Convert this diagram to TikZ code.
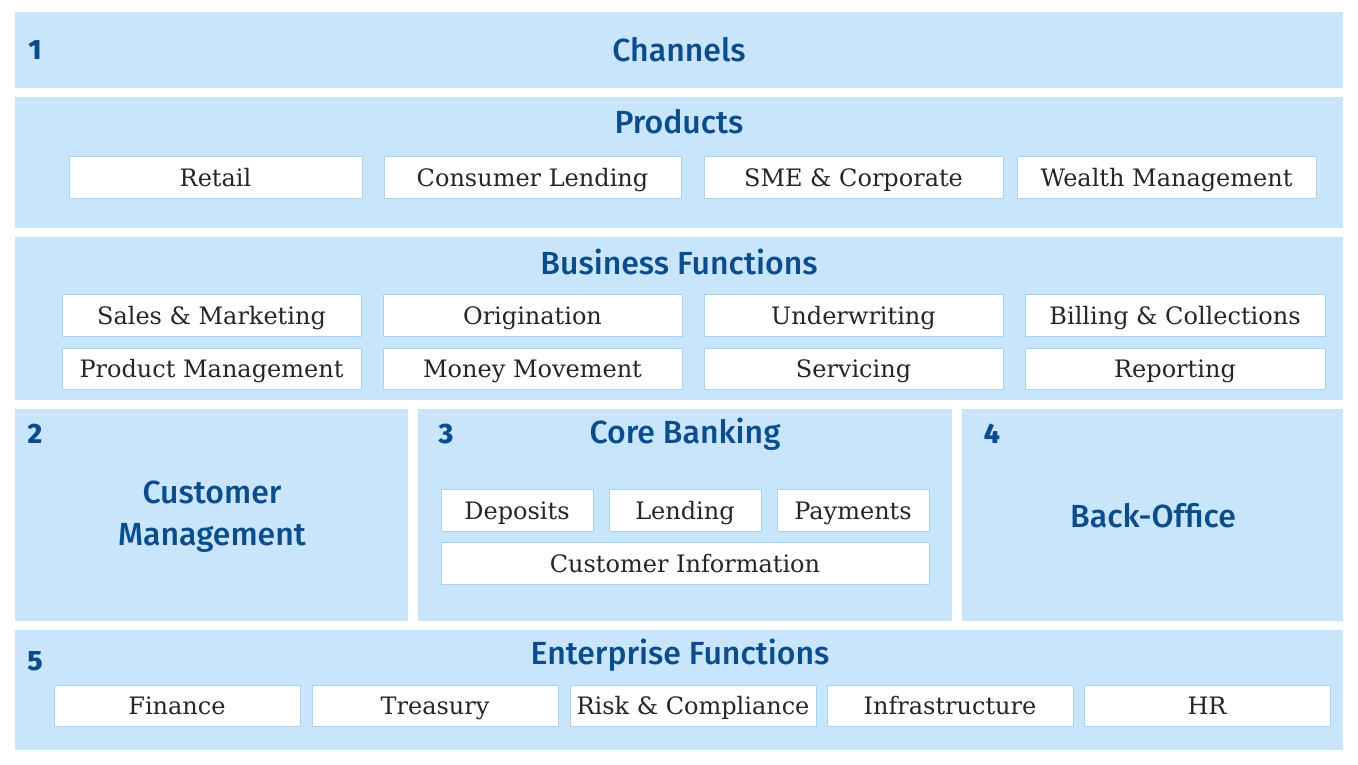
\documentclass[tikz,border=0pt]{standalone}
\usepackage{fontspec}
\setmainfont{DejaVu Serif}
\newfontfamily\ttlfont{Fira Sans Medium}
\begin{document}
\begin{tikzpicture}[x=1pt,y=-1pt,
  panel/.style={fill=pbg,draw=none},
  ttl/.style={font=\ttlfont\fontsize{32}{36}\selectfont,text=tblue},
  num/.style={font=\ttlfont\bfseries\fontsize{28}{32}\selectfont,text=tblue},
  item/.style={fill=white,draw=bline,line width=1pt}]
\definecolor{pbg}{HTML}{C8E5FB}
\definecolor{tblue}{HTML}{0B4D8C}
\definecolor{bline}{HTML}{A9D3F5}
\useasboundingbox (0,0) rectangle (1358,764);
\fill[white] (0,0) rectangle (1358,764);
\newcommand\pan[5]{\fill[panel] (#1,#2) rectangle (#3,#4); \coordinate (#5) at (#1,#2);}
\newcommand\itm[6]{\draw[item] (#1,#2) rectangle (#3,#4); \node[anchor=base,inner sep=0pt,font=\fontsize{24}{28}\selectfont,text=black!85] (#5) at ({(#1+#3)/2},{(#2+#4)/2+9}) {#6};}
% panels
\pan{15}{12}{1343}{88}{pch}
\pan{15}{97}{1343}{228}{ppr}
\pan{15}{237}{1343}{400}{pbf}
\pan{15}{409}{408}{621}{pcm}
\pan{418}{409}{952}{621}{pcb}
\pan{962}{409}{1343}{621}{pbo}
\pan{15}{630}{1343}{750}{pef}
% titles
\node[num] (n1) at (35,50) {1};
\node[ttl] (tch) at (679,50) {Channels};
\node[ttl] (tpr) at (679,122) {Products};
\node[ttl] (tbf) at (679,262) {Business Functions};
\node[num] (n2) at (35,434) {2};
\node[ttl,align=center] (tcm) at (212,517) {Customer\\[6pt]Management};
\node[num] (n3) at (446,434) {3};
\node[ttl] (tcb) at (685,434) {Core Banking};
\node[num] (n4) at (992,434) {4};
\node[ttl] (tbo) at (1153,516) {Back-Office};
\node[num] (n5) at (35,661) {5};
\node[ttl] (tef) at (680,655) {Enterprise Functions};
% products
\itm{69}{156}{362}{198}{b1}{Retail}
\itm{384}{156}{681}{198}{b2}{Consumer Lending}
\itm{704}{156}{1003}{198}{b3}{SME \& Corporate}
\itm{1017}{156}{1316}{198}{b4}{Wealth Management}
% business functions
\itm{62}{294}{361}{336}{c1}{Sales \& Marketing}
\itm{383}{294}{682}{336}{c2}{Origination}
\itm{704}{294}{1003}{336}{c3}{Underwriting}
\itm{1025}{294}{1325}{336}{c4}{Billing \& Collections}
\itm{62}{348}{361}{389}{c5}{Product Management}
\itm{383}{348}{682}{389}{c6}{Money Movement}
\itm{704}{348}{1003}{389}{c7}{Servicing}
\itm{1025}{348}{1325}{389}{c8}{Reporting}
% core banking
\itm{441}{489}{593}{531}{d1}{Deposits}
\itm{609}{489}{761}{531}{d2}{Lending}
\itm{777}{489}{929}{531}{d3}{Payments}
\itm{441}{542}{929}{584}{d4}{Customer Information}
% enterprise
\itm{54}{685}{300}{726}{e1}{Finance}
\itm{312}{685}{558}{726}{e2}{Treasury}
\itm{570}{685}{816}{726}{e3}{Risk \& Compliance}
\itm{827}{685}{1073}{726}{e4}{Infrastructure}
\itm{1084}{685}{1330}{726}{e5}{HR}
\end{tikzpicture}
\end{document}
